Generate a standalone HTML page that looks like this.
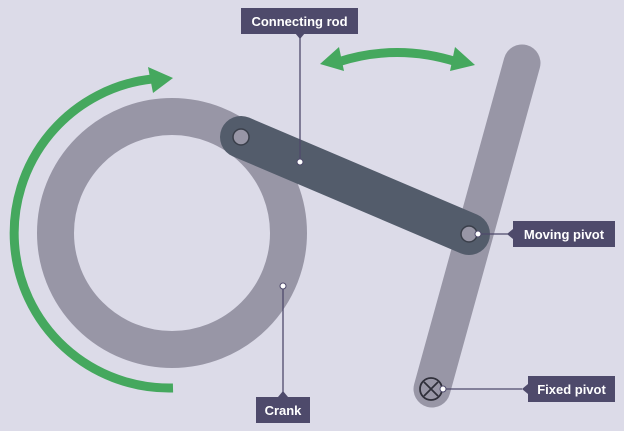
<!DOCTYPE html>
<html><head><style>
html,body{margin:0;padding:0;background:#dcdbe8;}
svg{display:block;}
text{font-family:"Liberation Sans",sans-serif;font-weight:bold;font-size:13px;fill:#fff;}
</style></head><body>
<svg width="624" height="431" viewBox="0 0 624 431" xmlns="http://www.w3.org/2000/svg">
<rect width="624" height="431" fill="#dcdbe8"/>
<!-- crank ring -->
<circle cx="172" cy="233" r="116.5" fill="none" stroke="#9896a6" stroke-width="37"/>
<!-- green rotation arc -->
<path d="M173 388 A155 155 0 0 1 152 79" fill="none" stroke="#45a85e" stroke-width="9"/>
<polygon points="173,78 148,67 153,93" fill="#45a85e"/>
<!-- rocker -->
<line x1="522" y1="63" x2="432" y2="389" stroke="#9896a6" stroke-width="37" stroke-linecap="round"/>
<!-- connecting rod -->
<line x1="241" y1="137" x2="469" y2="234" stroke="#535c6b" stroke-width="42" stroke-linecap="round"/>
<circle cx="241" cy="137" r="8" fill="#9896a6" stroke="#3a3f4a" stroke-width="1.5"/>
<circle cx="469" cy="234" r="8" fill="#9896a6" stroke="#3a3f4a" stroke-width="1.5"/>
<!-- fixed pivot -->
<circle cx="431" cy="389" r="11" fill="none" stroke="#2f2f3a" stroke-width="1.8"/>
<line x1="424" y1="382" x2="438" y2="396" stroke="#2f2f3a" stroke-width="1.8"/>
<line x1="438" y1="382" x2="424" y2="396" stroke="#2f2f3a" stroke-width="1.8"/>
<!-- green double arrow -->
<path d="M338 62 Q397 43 457 62" fill="none" stroke="#45a85e" stroke-width="9"/>
<polygon points="320,64 339,47 344,71" fill="#45a85e"/>
<polygon points="475,65 455,47 450,71" fill="#45a85e"/>
<!-- leaders -->
<g stroke="#4e4a6b" stroke-width="1.3">
<line x1="300" y1="33" x2="300" y2="162"/>
<line x1="478" y1="234" x2="510" y2="234"/>
<line x1="443" y1="389" x2="522" y2="389"/>
<line x1="283" y1="286" x2="283" y2="395"/>
</g>
<g fill="#fff" stroke="#4e4a6b" stroke-width="1">
<circle cx="300" cy="162" r="3"/>
<circle cx="478" cy="234" r="3"/>
<circle cx="443" cy="389" r="3"/>
<circle cx="283" cy="286" r="3"/>
</g>
<!-- labels -->
<g fill="#4e4a6b">
<rect x="241" y="8" width="117" height="26"/>
<polygon points="295,33 305,33 300,39"/>
<rect x="513" y="221" width="102" height="26"/>
<polygon points="513,229 513,239 507,234"/>
<rect x="528" y="376" width="87" height="26"/>
<polygon points="528,384 528,394 522,389"/>
<rect x="256" y="397" width="54" height="26"/>
<polygon points="278,397 288,397 283,391"/>
</g>
<text x="299.5" y="26" text-anchor="middle">Connecting rod</text>
<text x="564" y="239" text-anchor="middle">Moving pivot</text>
<text x="571.5" y="394" text-anchor="middle">Fixed pivot</text>
<text x="283" y="415" text-anchor="middle">Crank</text>
</svg>
</body></html>
